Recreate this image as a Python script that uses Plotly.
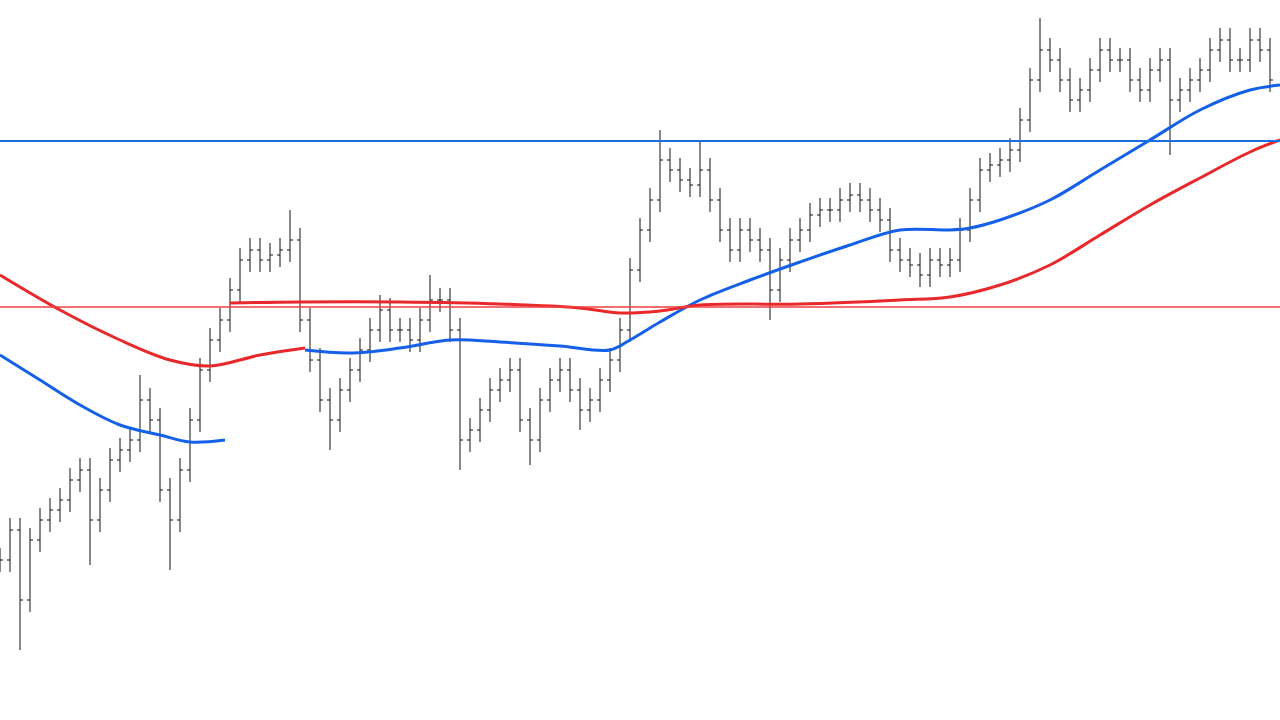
import plotly.graph_objects as go

H = 720  # screen height, levels below are read as pixel rows and flipped

bar_x = list(range(0, 1280, 10))
close_px = [
    560, 530, 600, 540, 520, 510, 500, 480, 470, 520, 490, 460, 450, 440, 400, 420,
    490, 520, 470, 420, 370, 340, 320, 290, 260, 250, 260, 255, 250, 240, 320, 360,
    400, 420, 390, 370, 350, 330, 310, 330, 330, 340, 320, 300, 300, 330, 440, 430,
    410, 390, 380, 370, 420, 440, 400, 380, 370, 390, 410, 400, 380, 360, 330, 270,
    230, 200, 160, 170, 180, 185, 170, 200, 230, 250, 230, 240, 250, 290, 260, 240,
    230, 215, 210, 210, 200, 195, 200, 210, 220, 250, 260, 265, 275, 260, 265, 260,
    230, 200, 170, 165, 160, 150, 120, 80, 50, 60, 80, 100, 90, 70, 50, 60,
    60, 80, 90, 70, 60, 100, 90, 80, 70, 50, 40, 60, 60, 40, 50, 80,
]
wick_up = [
    12, 12, 12, 12, 12, 12, 12, 12, 12, 12, 12, 12, 12, 12, 25, 12,
    12, 12, 12, 12, 12, 12, 12, 12, 12, 12, 12, 12, 12, 30, 12, 12,
    12, 12, 12, 12, 12, 12, 15, 12, 12, 12, 12, 25, 12, 12, 12, 12,
    12, 12, 12, 12, 12, 12, 12, 12, 12, 12, 12, 12, 12, 12, 12, 12,
    12, 12, 30, 12, 12, 12, 30, 12, 12, 12, 12, 12, 12, 12, 12, 12,
    12, 12, 12, 12, 12, 12, 12, 12, 12, 12, 12, 12, 12, 12, 12, 12,
    12, 12, 12, 12, 12, 12, 12, 12, 32, 12, 12, 12, 12, 12, 12, 12,
    12, 12, 12, 12, 12, 12, 12, 12, 12, 12, 12, 12, 12, 12, 12, 12,
]
wick_dn = [
    12, 12, 50, 12, 12, 12, 12, 12, 12, 45, 12, 12, 12, 12, 12, 12,
    12, 50, 12, 12, 12, 12, 12, 12, 12, 12, 12, 12, 12, 12, 12, 12,
    12, 30, 12, 12, 12, 12, 12, 12, 12, 12, 12, 12, 12, 12, 30, 12,
    12, 12, 12, 12, 12, 25, 12, 12, 12, 12, 20, 12, 12, 12, 12, 12,
    12, 12, 12, 12, 12, 12, 12, 12, 12, 12, 12, 12, 12, 30, 12, 12,
    12, 12, 12, 12, 12, 12, 12, 12, 12, 12, 12, 12, 12, 12, 12, 12,
    12, 12, 12, 12, 12, 12, 12, 12, 12, 12, 12, 12, 12, 12, 12, 12,
    12, 12, 12, 12, 12, 55, 12, 12, 12, 12, 12, 12, 12, 12, 12, 12,
]

# moving averages (screen px)
blue_a_x = [0, 40, 80, 120, 160, 190, 225]
blue_a_y = [355, 380, 405, 425, 435, 442, 440]
blue_b_x = [305, 350, 400, 450, 500, 560, 610, 630, 660, 700, 750, 800, 850, 900, 950, 970, 1000, 1050, 1100, 1150, 1200, 1250, 1280]
blue_b_y = [350, 353, 348, 340, 342, 346, 350, 340, 322, 300, 280, 262, 245, 230, 230, 228, 220, 200, 170, 140, 110, 90, 85]
red_a_x = [0, 60, 120, 170, 210, 260, 305]
red_a_y = [275, 310, 340, 360, 366, 355, 348]
red_b_x = [230, 300, 400, 500, 580, 620, 660, 700, 800, 900, 950, 1000, 1050, 1100, 1150, 1200, 1250, 1280]
red_b_y = [303, 302, 302, 304, 308, 313, 311, 305, 304, 300, 297, 285, 265, 235, 205, 178, 152, 140]
blue_level = 141
red_level = 307


def flip(vals):
    return [H - v for v in vals]


open_px = [close_px[0]] + close_px[:-1]
high_px = [min(o, c) - u for o, c, u in zip(open_px, close_px, wick_up)]
low_px = [max(o, c) + d for o, c, d in zip(open_px, close_px, wick_dn)]

fig = go.Figure()
fig.add_trace(go.Ohlc(
    x=bar_x, open=flip(open_px), high=flip(high_px), low=flip(low_px), close=flip(close_px),
    increasing_line_color='#111', decreasing_line_color='#111',
    line_width=1, tickwidth=0.3, showlegend=False
))
for xs, ys, col in [(blue_a_x, blue_a_y, '#1560e8'), (blue_b_x, blue_b_y, '#1560e8'),
                    (red_a_x, red_a_y, '#e8282b'), (red_b_x, red_b_y, '#e8282b')]:
    fig.add_trace(go.Scatter(x=xs, y=flip(ys), mode='lines', line=dict(color=col, width=3, shape='spline'),
                             showlegend=False))
fig.add_hline(y=H - blue_level, line_color='#1a6fe0', line_width=2)
fig.add_hline(y=H - red_level, line_color='#f04040', line_width=1.5)

fig.update_layout(
    width=1280, height=720, margin=dict(l=0, r=0, t=0, b=0, pad=0, autoexpand=False),
    plot_bgcolor='white', paper_bgcolor='white',
    xaxis=dict(range=[0, 1280], visible=False, rangeslider_visible=False, fixedrange=True),
    yaxis=dict(range=[0, H], visible=False),
)
fig.write_html("out.html", config={'displayModeBar': False},
               post_script="document.body.style.margin='0';document.body.style.overflow='hidden';")
